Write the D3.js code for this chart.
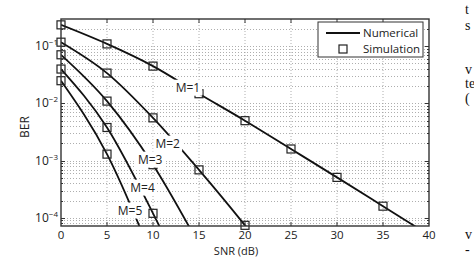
<!DOCTYPE html>
<meta charset="utf-8">
<style>
body { margin: 0; background: #fff; }
svg { display: block; }
.tick-label, .axis-label, .legend-text, .m-label { font-family: "Open Sans", sans-serif; fill: #222; }
.side { font-family: "Liberation Serif", serif; font-size: 14px; fill: #111; }
</style>
<body>
<svg id="chart"></svg>
<script src="https://d3js.org/d3.v7.min.js"></script>
<script>

var width = 474,
    height = 258;

// SNR (dB) points of the numerical curves
var numSnr = [0, 5, 10, 15, 20, 25, 30, 35, 40];

// numerical BER for M = 1..5 (points past the bottom are clipped)
var numBer = [
  [0.237, 0.11, 0.045, 0.0148, 0.005, 0.0016, 5.1e-4, 1.6e-4, 5e-5],
  [0.118, 0.034, 0.0056, 6.9e-4, 7.4e-5, 7e-6],
  [0.071, 0.011, 8.5e-4, 3.4e-5],
  [0.04, 0.0038, 1.2e-4, 2.5e-6],
  [0.025, 1.3e-3, 1.9e-5]
];

// simulated BER (only the points that show in the plot)
var simBer = [
  [0.237, 0.11, 0.045, 0.0148, 0.005, 0.0016, 5.1e-4, 1.6e-4],
  [0.118, 0.034, 0.0056, 6.9e-4, 7.4e-5],
  [0.071, 0.011, 8.5e-4],
  [0.04, 0.0038, 1.2e-4],
  [0.025, 1.3e-3]
];

var curveNames = ["M=1", "M=2", "M=3", "M=4", "M=5"];
// where each label sits, in (SNR, BER)
var labelSnr = [13.8, 11.6, 9.7, 8.86, 7.5];
var labelBer = [0.019, 2.0e-3, 1.05e-3, 3.4e-4, 1.35e-4];

var xTicks = [0, 5, 10, 15, 20, 25, 30, 35, 40];
var yTicks = [1e-1, 1e-2, 1e-3, 1e-4];
var yTickText = ["-1", "-2", "-3", "-4"];

var legendItems = ["Numerical", "Simulation"];

var x = d3.scaleLinear().domain([0, 40]).range([61, 429]);
var y = d3.scaleLog().domain([7.2e-5, 0.3]).range([226, 19]);

var svg = d3.select("#chart")
    .attr("width", width)
    .attr("height", height);

svg.append("defs").append("clipPath")
    .attr("id", "plot-clip")
  .append("rect")
    .attr("x", x(0)).attr("y", y(0.3))
    .attr("width", x(40) - x(0))
    .attr("height", y(7.2e-5) - y(0.3));

// minor + major y grid values
var yGrid = [];
[1e-5, 1e-4, 1e-3, 1e-2, 1e-1].forEach(function(d) {
  for (var k = 1; k < 10; k++) {
    var v = d * k;
    if (v > 7.2e-5 && v < 0.3) yGrid.push(v);
  }
});

var grid = svg.append("g")
    .attr("stroke", "#999")
    .attr("stroke-width", 0.8)
    .attr("stroke-dasharray", "1,2");

grid.selectAll(".gx")
  .data(xTicks.slice(1, -1))
  .enter().append("line")
    .attr("x1", function(d) { return x(d); })
    .attr("x2", function(d) { return x(d); })
    .attr("y1", y(0.3))
    .attr("y2", y(7.2e-5));

grid.selectAll(".gy")
  .data(yGrid)
  .enter().append("line")
    .attr("x1", x(0))
    .attr("x2", x(40))
    .attr("y1", function(d) { return Math.round(y(d)) + 0.5; })
    .attr("y2", function(d) { return Math.round(y(d)) + 0.5; });

// numerical curves
var line = d3.line()
    .x(function(d) { return x(d[0]); })
    .y(function(d) { return y(d[1]); })
    .curve(d3.curveMonotoneX);

svg.append("g")
    .attr("clip-path", "url(#plot-clip)")
  .selectAll("path")
  .data(numBer)
  .enter().append("path")
    .attr("fill", "none")
    .attr("stroke", "#111")
    .attr("stroke-width", 1.8)
    .attr("d", function(b) {
      return line(b.map(function(v, i) { return [numSnr[i], v]; }));
    });

// simulation markers
var ms = 8;
simBer.forEach(function(b) {
  svg.append("g").selectAll("rect")
    .data(b)
    .enter().append("rect")
      .attr("x", function(d, i) { return x(numSnr[i]) - ms / 2; })
      .attr("y", function(d) { return y(d) - ms / 2; })
      .attr("width", ms)
      .attr("height", ms)
      .attr("fill", "none")
      .attr("stroke", "#222")
      .attr("stroke-width", 1.2);
});

// curve labels with white backing
curveNames.forEach(function(name, i) {
  var g = svg.append("g");
  var t = g.append("text")
      .attr("class", "m-label")
      .attr("x", x(labelSnr[i]))
      .attr("y", y(labelBer[i]))
      .attr("dy", "0.35em")
      .attr("text-anchor", "middle")
      .attr("font-size", 12)
      .text(name);
  var bb = t.node().getBBox();
  g.insert("rect", "text")
      .attr("x", bb.x - 2)
      .attr("y", bb.y + 1)
      .attr("width", bb.width + 4)
      .attr("height", bb.height - 1)
      .attr("fill", "#fff");
});

// axes frame
svg.append("rect")
    .attr("x", x(0)).attr("y", y(0.3))
    .attr("width", x(40) - x(0))
    .attr("height", y(7.2e-5) - y(0.3))
    .attr("fill", "none")
    .attr("stroke", "#333")
    .attr("stroke-width", 1.4);

var ticks = svg.append("g").attr("stroke", "#333").attr("stroke-width", 1);

ticks.selectAll(".xb")
  .data(xTicks.slice(1, -1))
  .enter().append("line")
    .attr("x1", function(d) { return x(d); })
    .attr("x2", function(d) { return x(d); })
    .attr("y1", y(7.2e-5))
    .attr("y2", y(7.2e-5) - 4);

ticks.selectAll(".xt")
  .data(xTicks.slice(1, -1))
  .enter().append("line")
    .attr("x1", function(d) { return x(d); })
    .attr("x2", function(d) { return x(d); })
    .attr("y1", y(0.3))
    .attr("y2", y(0.3) + 4);

[x(0), x(40)].forEach(function(x0, side) {
  var dir = side === 0 ? 1 : -1;
  ticks.append("g").selectAll("line")
    .data(yGrid)
    .enter().append("line")
      .attr("x1", x0)
      .attr("x2", function(d) {
        var major = yTicks.indexOf(d) >= 0;
        return x0 + dir * (major ? 4 : 2);
      })
      .attr("y1", function(d) { return Math.round(y(d)) + 0.5; })
      .attr("y2", function(d) { return Math.round(y(d)) + 0.5; });
});

// x tick labels
svg.append("g").selectAll("text")
  .data(xTicks)
  .enter().append("text")
    .attr("class", "tick-label")
    .attr("x", function(d) { return x(d); })
    .attr("y", 238.8)
    .attr("text-anchor", "middle")
    .attr("font-size", 11.5)
    .text(function(d) { return d; });

// y tick labels: 10^-k
yTicks.forEach(function(d, i) {
  var t = svg.append("text")
      .attr("class", "tick-label")
      .attr("x", 58)
      .attr("y", y(d) + 4)
      .attr("text-anchor", "end")
      .attr("font-size", 12);
  t.append("tspan").text("10");
  t.append("tspan")
      .attr("dy", -5)
      .attr("font-size", 8)
      .text(yTickText[i].replace("-", "\u2212"));
});

svg.append("text")
    .attr("class", "axis-label")
    .attr("x", 236)
    .attr("y", 254.8)
    .attr("text-anchor", "middle")
    .attr("font-size", 11)
    .text("SNR (dB)");

svg.append("text")
    .attr("class", "axis-label")
    .attr("transform", "translate(29,127)rotate(-90)")
    .attr("text-anchor", "middle")
    .attr("font-size", 12)
    .text("BER");

// legend
var lg = svg.append("g");
lg.append("rect")
    .attr("x", 318).attr("y", 22)
    .attr("width", 105).attr("height", 35)
    .attr("fill", "#fff")
    .attr("stroke", "#333")
    .attr("stroke-width", 1);
lg.append("line")
    .attr("x1", 326).attr("x2", 360)
    .attr("y1", 33).attr("y2", 33)
    .attr("stroke", "#111")
    .attr("stroke-width", 1.8);
lg.append("rect")
    .attr("x", 343 - ms / 2).attr("y", 49 - ms / 2)
    .attr("width", ms).attr("height", ms)
    .attr("fill", "none")
    .attr("stroke", "#222")
    .attr("stroke-width", 1.2);
lg.selectAll("text.legend-text")
  .data(legendItems)
  .enter().append("text")
    .attr("class", "legend-text")
    .attr("x", 363)
    .attr("y", function(d, i) { return 33 + i * 16; })
    .attr("dy", "0.35em")
    .attr("font-size", 11.5)
    .text(function(d) { return d; });

// fragments of the neighbouring page text
var sideText = [["t", 14], ["s", 30], ["v", 74], ["te", 88], ["(", 103], ["v", 239], ["-", 254]];
svg.append("g").selectAll("text")
  .data(sideText)
  .enter().append("text")
    .attr("class", "side")
    .attr("x", 465)
    .attr("y", function(d) { return d[1]; })
    .text(function(d) { return d[0]; });

</script>
</body>
